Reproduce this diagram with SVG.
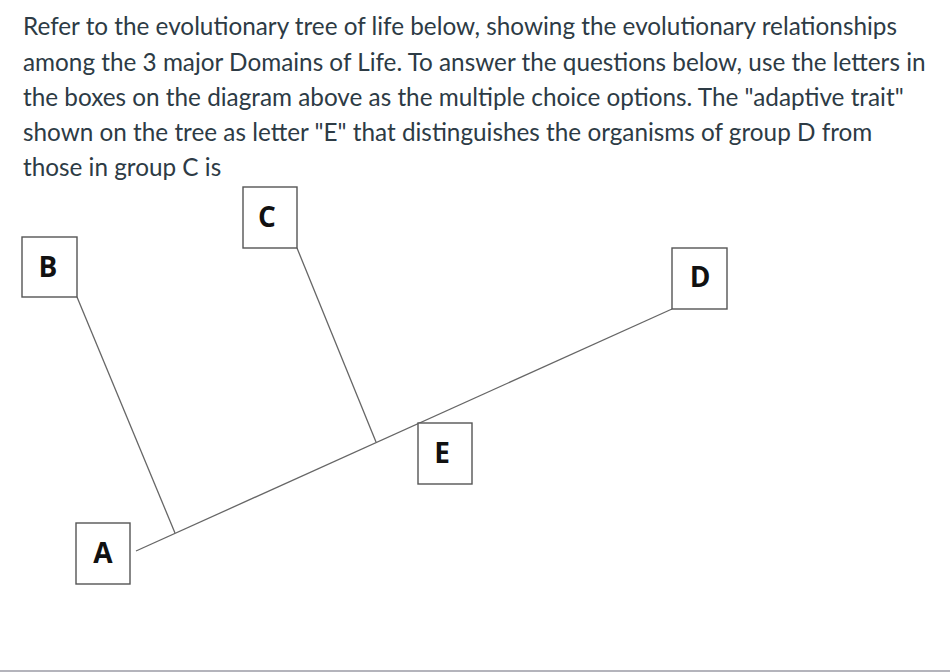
<svg xmlns="http://www.w3.org/2000/svg" width="950" height="672" viewBox="0 0 950 672">
<style>
.q{font-family:Lato,"Liberation Sans",sans-serif;font-size:24.3px;fill:#2d3b45}
.box{fill:#fff;stroke:#555;stroke-width:1.4}
.lbl{font-family:"Open Sans","Liberation Sans",sans-serif;font-weight:bold;font-size:28px;fill:#111;text-anchor:middle}
.edge{stroke:#666;stroke-width:1.3;fill:none}
</style>
<rect width="950" height="672" fill="#fff"/>
<g id="question">
<text class="q" x="23" y="35">Refer to the evolutionary tree of life below, showing the evolutionary relationships</text>
<text class="q" x="23" y="71">among the 3 major Domains of Life. To answer the questions below, use the letters in</text>
<text class="q" x="23" y="106">the boxes on the diagram above as the multiple choice options. The "adaptive trait"</text>
<text class="q" x="23" y="141">shown on the tree as letter "E" that distinguishes the organisms of group D from</text>
<text class="q" x="23" y="176">those in group C is</text>
</g>
<g id="connectors">
<line class="edge" x1="136" y1="551" x2="672" y2="309"/>
<line class="edge" x1="77" y1="297" x2="175" y2="533"/>
<line class="edge" x1="297" y1="248" x2="376" y2="442"/>
</g>
<g id="node-B"><rect class="box" x="22" y="237" width="55" height="60"/><text class="lbl" x="48" y="277">B</text></g>
<g id="node-C"><rect class="box" x="243" y="187" width="54" height="61"/><text class="lbl" x="267" y="227">C</text></g>
<g id="node-A"><rect class="box" x="76" y="523" width="54" height="61"/><text class="lbl" x="103" y="563">A</text></g>
<g id="node-D"><rect class="box" x="672" y="248" width="55" height="61"/><text class="lbl" x="700" y="287">D</text></g>
<g id="node-E"><rect class="box" x="418" y="423" width="54" height="61"/><text class="lbl" x="442" y="463">E</text></g>
<rect x="0" y="670" width="950" height="2" fill="#b4b4bc"/>
</svg>
